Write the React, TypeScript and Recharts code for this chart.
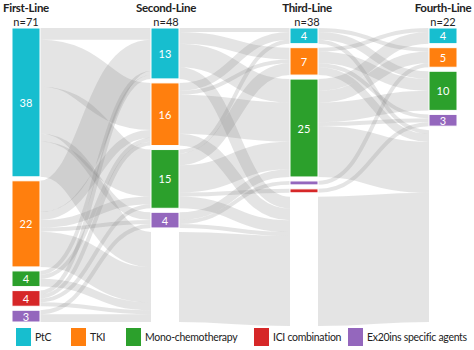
import { Sankey } from 'recharts';

const TREATMENTS = ['PtC', 'TKI', 'Mono-chemotherapy', 'ICI combination', 'Ex20ins specific agents'];
const COLORS = ['#17becf', '#ff7f0e', '#2ca02c', '#d62728', '#9467bd'];
const LINES = ['First-Line', 'Second-Line', 'Third-Line', 'Fourth-Line'];
const LINE_TOTALS = [71, 48, 38, 22];

// treatments in each line, top to bottom (index into TREATMENTS, -1 = no further line)
const LINE_NODES = [
  [0, 1, 2, 3, 4],
  [0, 1, 2, 4, -1],
  [0, 1, 2, 4, 3, -1],
  [0, 1, 2, 4, -1],
];

// [from treatment, to treatment, patients]
const FLOWS_1_2 = [
  [0, 0, 3], [0, 1, 12], [0, 2, 12], [0, 4, 2], [0, -1, 9],
  [1, 0, 8], [1, 1, 2], [1, 2, 2], [1, 4, 1], [1, -1, 9],
  [2, 0, 1], [2, 1, 1], [2, -1, 2],
  [3, 0, 1], [3, 1, 1], [3, 2, 1], [3, -1, 1],
  [4, 4, 1], [4, -1, 2],
];
const FLOWS_2_3 = [
  [0, 0, 1], [0, 1, 3], [0, 2, 6], [0, -1, 3],
  [1, 0, 2], [1, 1, 1], [1, 2, 10], [1, -1, 3],
  [2, 0, 1], [2, 1, 3], [2, 2, 7], [2, 3, 1], [2, -1, 3],
  [4, 2, 2], [4, 4, 1], [4, -1, 1],
  [-1, -1, 23],
];
const FLOWS_3_4 = [
  [0, 1, 1], [0, 2, 2], [0, -1, 1],
  [1, 0, 1], [1, 2, 3], [1, 4, 1], [1, -1, 2],
  [2, 0, 3], [2, 1, 3], [2, 2, 5], [2, 4, 1], [2, -1, 13],
  [4, 1, 1],
  [3, 4, 1],
  [-1, -1, 33],
];

const nodes: any[] = [];
const nodeIndex: Record<string, number> = {};
LINE_NODES.forEach((list, line) => {
  list.forEach((t) => {
    nodeIndex[`${line}:${t}`] = nodes.length;
    nodes.push({ name: t < 0 ? `none-${line}` : TREATMENTS[t], treatment: t, line });
  });
});

const links: any[] = [];
[FLOWS_1_2, FLOWS_2_3, FLOWS_3_4].forEach((flows, line) => {
  flows.forEach(([from, to, n]) => {
    links.push({ source: nodeIndex[`${line}:${from}`], target: nodeIndex[`${line + 1}:${to}`], value: n });
  });
});

const data = { nodes, links };

const FONT = 'Lato, "Open Sans", sans-serif';
const COL_CENTERS = [26, 166, 307, 443];
const LEGEND_X = [16, 71, 126, 254, 348];

function TreatmentNode(props: any) {
  const { x, y, width, height, payload } = props;
  if (payload.treatment < 0) return <g />;
  return (
    <g>
      <rect x={x} y={y} width={width} height={height} fill={COLORS[payload.treatment]} stroke="#fff" strokeWidth={1} />
      {height > 9 && (
        <text
          x={x + width / 2}
          y={y + height / 2}
          textAnchor="middle"
          dominantBaseline="central"
          fill="#fff"
          fontSize={11}
          fontFamily={FONT}
        >
          {payload.value}
        </text>
      )}
    </g>
  );
}

function GrayLink(props: any) {
  const { sourceX, sourceY, sourceControlX, targetX, targetY, targetControlX, linkWidth } = props;
  return (
    <path
      d={`M${sourceX},${sourceY}C${sourceControlX},${sourceY} ${targetControlX},${targetY} ${targetX},${targetY}`}
      fill="none"
      stroke="#848484"
      strokeOpacity={0.22}
      strokeWidth={linkWidth}
    />
  );
}

export default function App() {
  return (
    <div style={{ position: 'absolute', left: 0, top: 0, width: 474, height: 350, background: '#fff', fontFamily: FONT }}>
      <Sankey
        width={474}
        height={350}
        data={data}
        margin={{ top: 28, left: 12, right: 17, bottom: 24 }}
        nodeWidth={28}
        nodePadding={4}
        iterations={0}
        sort={false}
        align="left"
        verticalAlign="top"
        node={TreatmentNode}
        link={GrayLink}
      />
      {LINES.map((label, i) => (
        <div key={label} style={{ position: 'absolute', left: COL_CENTERS[i] - 50, width: 100, top: 0, textAlign: 'center', color: '#222' }}>
          <div style={{ fontSize: 11.5, fontWeight: 700, lineHeight: '15px', letterSpacing: -0.3 }}>{label}</div>
          <div style={{ fontSize: 11, lineHeight: '13px' }}>n={LINE_TOTALS[i]}</div>
        </div>
      ))}
      {TREATMENTS.map((t, i) => (
        <div key={t} style={{ position: 'absolute', left: LEGEND_X[i], top: 328, display: 'flex', alignItems: 'center' }}>
          <div style={{ width: 15, height: 18, background: COLORS[i] }} />
          <span style={{ marginLeft: 4, fontSize: 10.5, letterSpacing: -0.3, color: '#222', whiteSpace: 'nowrap' }}>{t}</span>
        </div>
      ))}
    </div>
  );
}
